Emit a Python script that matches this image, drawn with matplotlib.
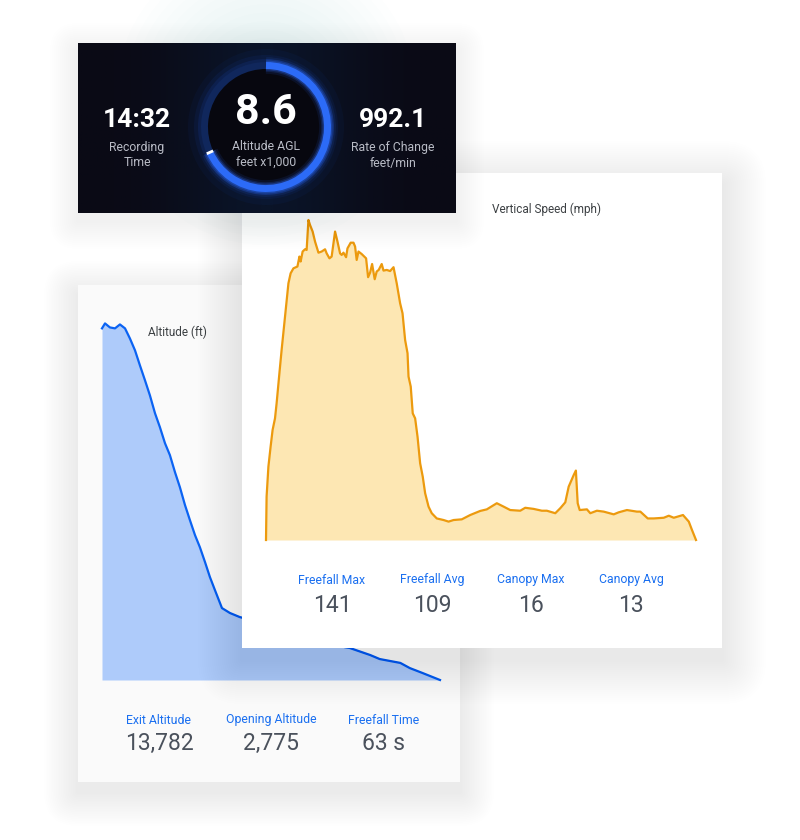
import numpy as np
import matplotlib.pyplot as plt
from matplotlib.colors import LinearSegmentedColormap
from matplotlib.patches import Rectangle, Arc, Circle, FancyBboxPatch

plt.rcParams['font.family'] = ['Roboto', 'DejaVu Sans']

W, H = 800, 840

# altitude profile (seconds, feet)
alt_time = [0, 1.9, 5, 8.2, 11.3, 14.5, 17.6, 20.8, 23.9, 27.1, 30.2, 33.4, 36.5,
            39.7, 42.8, 46.0, 49.1, 52.3, 55.4, 58.6, 61.7, 64.9, 68.0, 71.2, 75.6,
            80.6, 86.9, 99.5, 112, 125, 137, 153, 156, 169, 175, 188, 194, 202, 213]
alt_ft = [13590, 13782, 13626, 13590, 13742, 13590, 13200, 12740, 12160, 11580, 11000,
          10310, 9770, 9150, 8690, 8030, 7450, 6760, 6180, 5600, 5130, 4560, 3980, 3470,
          2780, 2590, 2430, 2240, 2050, 1850, 1620, 1270, 1240, 965, 810, 660, 460, 270, 0]

# vertical speed profile (seconds, mph)
vs_time = [0, 0.3, 1.2, 2.3, 3.3, 4.5, 5.3, 6.7, 7.8, 9.5, 11.2, 12.3, 13.7, 15.7, 16.7,
           17.3, 18.3, 19.5, 20.3, 21.2, 22.0, 23.3, 24.5, 26.2, 27.8, 29.5, 30.3, 31.7,
           32.8, 34.5, 35.7, 37.0, 37.8, 38.7, 40.0, 40.7, 42.3, 43.7, 44.5, 45.3, 46.2,
           47.8, 50.0, 51.0, 52.0, 53.0, 54.3, 55.3, 56.3, 57.8, 58.7, 60.3, 62.0, 63.7,
           65.3, 67.0, 68.2, 69.5, 70.7, 71.2, 72.3, 73.3, 74.5, 75.7, 77.0, 78.3, 79.5,
           81.2, 82.8, 85.3, 88.7, 91.2, 93.7, 97.8, 102.0, 107.0, 110.3, 115.3, 118.7,
           122.0, 127.0, 129.5, 133.7, 137.8, 140.3, 144.5, 147.0, 149.5, 151.2, 153.7,
           154.8, 155.7, 156.7, 160.3, 162.0, 165.3, 168.7, 173.7, 176.2, 180.3, 185.3,
           187.0, 190.7, 193.7, 198.7, 201.2, 203.7, 208.3, 211.2, 212.8, 214.8]
vs_mph = [0, 19.1, 32.3, 41.1, 48.5, 53.6, 60.2, 73.5, 83.7, 98.4, 113.1, 117.5, 119.7,
          120.5, 124.9, 122.7, 127.1, 128.1, 127.8, 141.0, 138.8, 135.9, 131.5, 126.6,
          127.1, 128.1, 126.3, 124.1, 124.9, 135.9, 131.5, 126.3, 125.6, 126.6, 124.6,
          128.5, 131.0, 131.0, 129.3, 123.4, 127.1, 126.0, 124.1, 115.8, 117.8, 121.6,
          114.9, 118.3, 119.0, 121.6, 118.7, 119.0, 118.5, 120.2, 113.1, 104.3, 99.9,
          88.1, 82.3, 72.0, 67.6, 55.8, 53.6, 45.5, 33.8, 27.9, 20.6, 14.7, 11.8, 9.5,
          8.8, 8.1, 8.8, 9.1, 11.0, 12.8, 13.5, 16.2, 14.7, 13.2, 12.9, 14.2, 13.7, 12.9,
          12.9, 11.8, 14.0, 16.6, 23.5, 28.6, 30.6, 16.2, 13.2, 13.5, 11.8, 12.9, 12.5,
          11.3, 12.2, 13.2, 12.5, 12.5, 9.5, 9.5, 9.8, 10.7, 9.8, 11.0, 8.1, 4.4, 0]

alt_labels = ['Exit Altitude', 'Opening Altitude', 'Freefall Time']
alt_values = ['13,782', '2,775', '63 s']
vs_labels = ['Freefall Max', 'Freefall Avg', 'Canopy Max', 'Canopy Avg']
vs_values = ['141', '109', '16', '13']

header_values = ['14:32', '8.6', '992.1']
header_labels = ['Recording\nTime', 'Altitude AGL\nfeet x1,000', 'Rate of Change\nfeet/min']
gauge_value = 8.6
gauge_full = 12.6

BLUE_TXT = '#1a6ff0'
VAL_TXT = '#4a515c'

fig = plt.figure(figsize=(8, 8.4), dpi=100)
fig.patch.set_facecolor('white')


def layer(z):
    ax = fig.add_axes([0, 0, 1, 1], zorder=z)
    ax.set_xlim(0, W)
    ax.set_ylim(H, 0)
    ax.axis('off')
    return ax


def px_axes(x0, y0, x1, y1, z):
    ax = fig.add_axes([x0 / W, 1 - y1 / H, (x1 - x0) / W, (y1 - y0) / H], zorder=z)
    ax.axis('off')
    return ax


def shadow(ax, x0, y0, x1, y1, color='black', spread=30, dy=8, alpha=0.005, n=20):
    # soft drop shadow from stacked, increasingly large rounded boxes
    for i in range(n):
        p = spread * (i + 1) / n
        ax.add_patch(FancyBboxPatch((x0 - p, y0 - p + dy), x1 - x0 + 2 * p, y1 - y0 + 2 * p,
                                    boxstyle=f'round,pad=0,rounding_size={p}',
                                    fc=color, ec='none', alpha=alpha, zorder=0))


# ---- left card (altitude)
bg = layer(0)
shadow(bg, 78, 285, 460, 782, spread=34, dy=10, alpha=0.0045)
bg.add_patch(Rectangle((78, 285), 382, 497, fc='#fafafa', ec='none'))
bg.text(177, 332, 'Altitude (ft)', fontsize=8.5, color='#3c4043', ha='center', va='center')
for x, lab, val in zip([159, 271, 384], alt_labels, alt_values):
    bg.text(x, 720, lab, fontsize=8.8, color=BLUE_TXT, ha='center', va='center')
    bg.text(x, 743, val, fontsize=16.5, color=VAL_TXT, ha='center', va='center')

ax_alt = px_axes(102, 310, 440, 680, 1)
ax_alt.fill_between(alt_time, alt_ft, 0, color='#aecbfa', lw=0)
ax_alt.plot(alt_time, alt_ft, color='#0b63f3', lw=1.6, clip_on=False, solid_joinstyle='round')
ax_alt.set_xlim(0, alt_time[-1])
ax_alt.set_ylim(0, 14300)

# ---- right card (vertical speed)
mid = layer(2)
shadow(mid, 242, 173, 722, 648, spread=44, dy=12, alpha=0.0045, n=22)
mid.add_patch(Rectangle((242, 173), 480, 475, fc='white', ec='none'))
mid.text(546, 209, 'Vertical Speed (mph)', fontsize=8.5, color='#3c4043', ha='center', va='center')
for x, lab, val in zip([332, 432, 531, 631], vs_labels, vs_values):
    mid.text(x, 580, lab, fontsize=8.8, color=BLUE_TXT, ha='center', va='center')
    mid.text(x, 605, val, fontsize=16.5, color=VAL_TXT, ha='center', va='center')

ax_vs = px_axes(266, 210, 696, 540, 3)
ax_vs.fill_between(vs_time, vs_mph, 0, color='#fde7b3', lw=0)
ax_vs.plot(vs_time, vs_mph, color='#ec9a0e', lw=1.6, clip_on=False, solid_joinstyle='round')
ax_vs.set_xlim(0, vs_time[-1])
ax_vs.set_ylim(0, 141 * 330 / 320)

# ---- dark header card with gauge
top = layer(4)
for rr in np.linspace(40, 150, 14):
    top.add_patch(Circle((266, 95), rr, fc='#5b86e8', ec='none', alpha=0.006, zorder=0))
shadow(top, 78, 43, 456, 213, spread=28, dy=8, alpha=0.004, n=14)
xs = np.linspace(-1, 1, 300)
grad = np.exp(-(xs / 0.5) ** 2)[None, :]
top.imshow(grad, extent=(78, 456, 213, 43),
           cmap=LinearSegmentedColormap.from_list('hdr', ['#0a0a15', '#0a1428']),
           aspect='auto', zorder=1)
top.set_xlim(0, W)
top.set_ylim(H, 0)

cx, cy, r = 266, 127, 61.5
for rr, a in [(78, 0.05), (72, 0.08), (68, 0.12)]:
    top.add_patch(Circle((cx, cy), rr, fc='#1d55e0', ec='none', alpha=a, zorder=2))
top.add_patch(Circle((cx, cy), r, fc='#07070f', ec='none', zorder=3))

sweep = 360 * gauge_value / gauge_full
top.add_patch(Arc((cx, cy), 2 * r, 2 * r, theta1=sweep - 90, theta2=270,
                  color='#10275c', lw=5, zorder=4))
for lw, a in [(12, 0.1), (9, 0.18), (7, 0.3)]:
    top.add_patch(Arc((cx, cy), 2 * r, 2 * r, theta1=-90, theta2=sweep - 90,
                      color='#2f6dff', lw=lw, alpha=a, zorder=4))
top.add_patch(Arc((cx, cy), 2 * r, 2 * r, theta1=-90, theta2=sweep - 90,
                  color='#2c6bf7', lw=5, zorder=5))
ang = np.radians(sweep - 90)
top.plot([cx + (r - 3.5) * np.cos(ang), cx + (r + 3.5) * np.cos(ang)],
         [cy + (r - 3.5) * np.sin(ang), cy + (r + 3.5) * np.sin(ang)],
         color='white', lw=2, zorder=6, solid_capstyle='butt')

for x, val, lab in zip([137, 266, 393], header_values, header_labels):
    big = val == header_values[1]
    top.text(x, 113 if big else 120, val, fontsize=31 if big else 19, fontweight='bold',
             color='white', ha='center', va='center', zorder=7)
    top.text(x, 155, lab, fontsize=8.8, color='#b9bcc6', ha='center', va='center',
             linespacing=1.3, zorder=7)

fig.savefig('out.png', dpi=100, facecolor='white')
